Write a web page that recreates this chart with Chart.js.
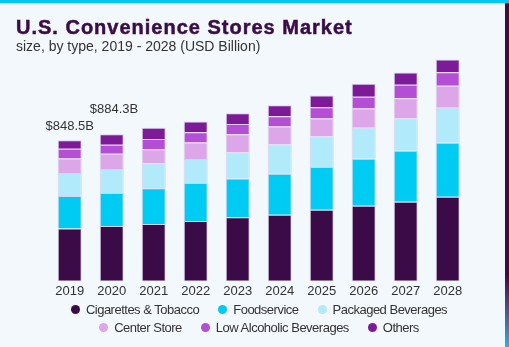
<!DOCTYPE html>
<html>
<head>
<meta charset="utf-8">
<script src="https://cdn.jsdelivr.net/npm/chart.js@4/dist/chart.umd.min.js"></script>
<style>
  html, body { margin: 0; padding: 0; width: 509px; height: 347px; overflow: hidden; background: #f3f8fc; font-family: "Liberation Sans", Arial, sans-serif; }
  #topbar { position: absolute; left: 0; top: 0; width: 509px; height: 3px; background: #00c8f0; z-index: 3; }
  #edge { position: absolute; left: 505px; top: 3px; width: 4px; height: 344px; z-index: 3;
          background: linear-gradient(to bottom, #3a0c47 0%, #3a0c47 79%, #483c7c 86%, #2f7fbd 94%, #16b9e8 100%); }
  #title { position: absolute; left: 16px; top: 17px; font-size: 20px; line-height: 20px; font-weight: bold; color: #3b0d47; letter-spacing: 1px; white-space: nowrap; z-index: 2; -webkit-text-stroke: 0.5px #3b0d47; }
  #subtitle { position: absolute; left: 16px; top: 39px; font-size: 14px; line-height: 14px; color: #333; white-space: nowrap; z-index: 2; }
  #chart { position: absolute; left: 0; top: 0; }
  #legend { position: absolute; left: 0; top: 301px; width: 518px; z-index: 2; }
  .row { display: flex; justify-content: center; align-items: center; height: 17.7px; }
  .item { display: flex; align-items: center; margin: 0 9.5px; font-size: 13px; color: #333; letter-spacing: -0.5px; white-space: nowrap; }
  .dot { width: 9px; height: 9px; border-radius: 50%; margin-right: 6px; flex: none; }
</style>
</head>
<body>
<div id="topbar"></div>
<div id="edge"></div>
<div id="title">U.S. Convenience Stores Market</div>
<div id="subtitle">size, by type, 2019 - 2028 (USD Billion)</div>
<canvas id="chart" width="509" height="347"></canvas>
<div id="legend"></div>
<script>
// Market size by product type, USD billion
const years = ['2019', '2020', '2021', '2022', '2023', '2024', '2025', '2026', '2027', '2028'];
const cigarettesTobacco = [318, 334, 346, 363, 386, 401, 431, 455, 479, 509];
const foodservice       = [196, 198, 214, 228, 232, 246, 256, 282, 306, 324];
const packagedBeverages = [138, 144, 148, 144, 158, 178, 186, 186, 196, 210];
const centerStore       = [86, 92, 86, 100, 108, 106, 106, 116, 120, 132];
const lowAlcoholic      = [60, 54, 62, 62, 62, 62, 68, 70, 80, 82];
const others            = [50.5, 62.3, 68, 64, 64, 66, 70, 78, 74, 76];
// Years whose total is printed above the bar
const labeledYears = ['2019', '2020'];

const seriesNames = ['Cigarettes & Tobacco', 'Foodservice', 'Packaged Beverages', 'Center Store', 'Low Alcoholic Beverages', 'Others'];
const seriesValues = [cigarettesTobacco, foodservice, packagedBeverages, centerStore, lowAlcoholic, others];
const seriesColors = ['#3b0b47', '#00cbf2', '#b1eafb', '#dda6e9', '#b44fd5', '#7c1a98'];

const FONT = '"Liberation Sans", Arial, sans-serif';

// Total labels: text offsets relative to the top of each stacked bar
const totalLabelOffsets = { '2019': { dx: 0, dy: 14 }, '2020': { dx: 2.3, dy: 25 } };

const totalLabels = {
  id: 'totalLabels',
  afterDatasetsDraw(chart) {
    const ctx = chart.ctx;
    const lastMeta = chart.getDatasetMeta(chart.data.datasets.length - 1);
    ctx.save();
    ctx.font = '13px ' + FONT;
    ctx.fillStyle = '#333';
    ctx.textAlign = 'center';
    ctx.textBaseline = 'middle';
    labeledYears.forEach(year => {
      const i = chart.data.labels.indexOf(year);
      if (i < 0) return;
      const total = chart.data.datasets.reduce((s, d) => s + d.data[i], 0);
      const bar = lastMeta.data[i];
      const off = totalLabelOffsets[year] || { dx: 0, dy: 14 };
      ctx.fillText('$' + total.toFixed(1) + 'B', bar.x + off.dx, bar.y - off.dy);
    });
    ctx.restore();
  }
};

// Legend rendered as HTML from the chart's datasets, in two rows
const htmlLegend = {
  id: 'htmlLegend',
  afterUpdate(chart) {
    const box = document.getElementById('legend');
    box.innerHTML = '';
    const rows = [[0, 1, 2], [3, 4, 5]];
    rows.forEach(idx => {
      const row = document.createElement('div');
      row.className = 'row';
      idx.forEach(k => {
        const ds = chart.data.datasets[k];
        const item = document.createElement('div');
        item.className = 'item';
        const dot = document.createElement('span');
        dot.className = 'dot';
        dot.style.background = ds.backgroundColor;
        const txt = document.createElement('span');
        txt.textContent = ds.label;
        item.appendChild(dot);
        item.appendChild(txt);
        row.appendChild(item);
      });
      box.appendChild(row);
    });
  }
};

const datasets = seriesNames.map((name, k) => ({
  label: name,
  data: seriesValues[k],
  backgroundColor: seriesColors[k],
  borderColor: 'rgba(214, 192, 230, 0.75)',
  borderWidth: 1,
  borderSkipped: k === 0 ? false : 'start'
}));

new Chart(document.getElementById('chart'), {
  type: 'bar',
  data: { labels: years, datasets },
  options: {
    responsive: false,
    animation: false,
    layout: { padding: { left: 48.7, right: 40.3, top: 48.4, bottom: 45.9 } },
    datasets: { bar: { categoryPercentage: 1, barPercentage: 0.571 } },
    plugins: { legend: { display: false }, tooltip: { enabled: false } },
    scales: {
      x: {
        stacked: true,
        grid: { display: false, drawTicks: false },
        border: { display: false },
        ticks: { padding: 2, color: '#333', font: { size: 13, family: FONT } }
      },
      y: { stacked: true, display: false, min: 0, max: 1400 }
    }
  },
  plugins: [totalLabels, htmlLegend]
});
</script>
</body>
</html>
